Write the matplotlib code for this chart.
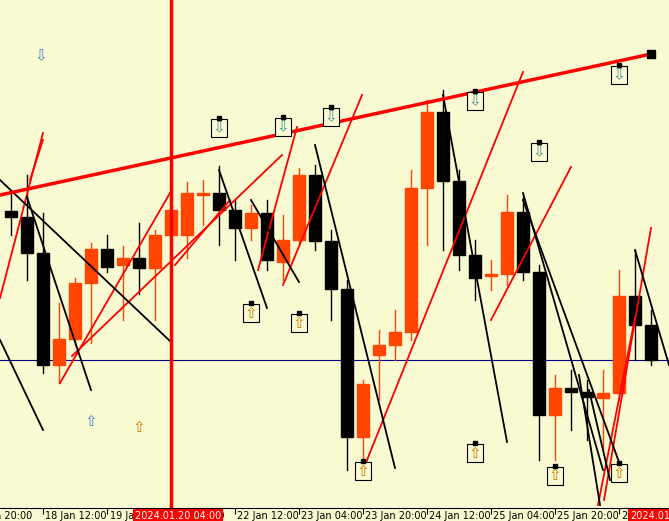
import matplotlib
matplotlib.use("Agg")
import matplotlib.pyplot as plt
from matplotlib.patches import Rectangle

# candle data in chart units (y grows downward like the screen)
opens  = [211,217,253,365,339,283,249,265,258,268,235,235,193,193,210,228,213,262,240,175,241,289,437,355,345,332,188,112,181,255,276,274,212,272,415,388,392,398,393,296,325]
closes = [217,253,365,339,283,249,267,258,268,235,210,193,193,210,228,213,260,240,175,241,289,437,384,345,332,188,112,181,255,278,274,212,272,415,388,392,397,393,296,325,360]
highs  = [190,175,213,303,278,243,235,246,223,230,195,182,180,166,200,205,200,215,168,165,230,280,380,330,310,170,100,90,170,240,260,195,195,265,375,370,380,370,270,250,310]
lows   = [235,280,373,383,345,343,272,320,294,320,260,258,225,245,260,240,270,280,245,250,320,470,470,400,360,340,245,250,270,300,290,285,280,460,460,430,440,450,400,360,365]
xtick_labels = ["18 Jan 12:00","19 Jan","2024.01.20 04:00",":00","22 Jan 12:00","23 Jan 04:00","23 Jan 20:00","24 Jan 12:00","25 Jan 04:00","25 Jan 20:00","26","2024.01.2"]
red_segs = [((0,298),(43,133)),((60,383),(170,193)),((72,356),(282,155)),((175,265),(230,200)),((258,270),(297,127)),((283,285),(362,95)),
            ((363,470),(523,72)),((491,320),(571,167)),((604,500),(651,228)),((598,505),(635,318)),((30,180),(43,140))]
black_segs = [((0,180),(171,342)),((27,197),(91,390)),((0,340),(43,430)),((219,170),(267,308)),((251,200),(299,282)),((315,145),(395,468)),
              ((443,95),(507,442)),((523,193),(603,470)),((523,200),(619,462)),((635,250),(669,365)),((579,375),(600,505)),((589,390),(610,480))]
down_boxed = [(219,128),(283,127),(331,117),(475,101),(539,152),(619,75)]
up_boxed = [(251,313),(299,323),(363,471),(475,453),(555,476),(619,473)]

BG = "#FAFAD2"; OR = "#FF4500"
fig = plt.figure(figsize=(6.69,5.21), dpi=100, facecolor=BG)
ax = fig.add_axes([0,13/521,1,1-13/521], facecolor=BG)
ax.set_xlim(0,669); ax.set_ylim(508,0)
for s in ax.spines.values(): s.set_visible(False)
ax.spines['bottom'].set_visible(True)

ax.axhline(360, color="#000080", lw=0.8)
for i,(o,c,h,l) in enumerate(zip(opens,closes,highs,lows)):
    x = 11+16*i
    col = "black" if c > o else OR
    ax.plot([x,x],[h,l], color=col, lw=1, zorder=3)
    ax.add_patch(Rectangle((x-6, min(o,c)), 12, max(abs(c-o),2), color=col, zorder=4))
for (a,b) in red_segs:
    ax.plot([a[0],b[0]],[a[1],b[1]], color="red", lw=1.3, zorder=5)
for (a,b) in black_segs:
    ax.plot([a[0],b[0]],[a[1],b[1]], color="black", lw=1.3, zorder=5)
ax.plot([0,651],[195,54], color="red", lw=2.5, zorder=6)
ax.plot([651],[54], marker="s", color="black", ms=6, zorder=7)
ax.axvline(171, color="red", lw=2.5, zorder=6)

bb = dict(boxstyle="square,pad=0.1", fc=BG, ec="black", lw=0.8)
for x,y in down_boxed:
    ax.text(x,y,"⇩", ha="center", va="center", fontsize=11, color="#4090A0", bbox=bb, zorder=8)
    ax.plot([x],[y-10], marker="s", color="black", ms=3, zorder=9)
for x,y in up_boxed:
    ax.text(x,y,"⇧", ha="center", va="center", fontsize=11, color="#C87800", bbox=bb, zorder=8)
    ax.plot([x],[y-10], marker="s", color="black", ms=3, zorder=9)
ax.text(41,56,"⇩", ha="center", va="center", fontsize=11, color="#4080C0")
ax.text(91,421,"⇧", ha="center", va="center", fontsize=11, color="#4080C0")
ax.text(139,428,"⇧", ha="center", va="center", fontsize=11, color="#C87800")

ticks = [43+64*k for k in range(10)]
ax.set_xticks(ticks); ax.set_xticklabels([])
ax.tick_params(axis='x', length=4, direction='out', pad=1)
ax.set_yticks([])
label_x = [45,110,133,210,237,301,365,429,493,557,621,628]
for lx,lab in zip(label_x,xtick_labels):
    if lab.startswith("2024"):
        ax.text(lx+2, 516, lab, fontsize=7, va="center", ha="left", color="white", clip_on=False,
                bbox=dict(boxstyle="square,pad=0.2", fc="red", ec="none"), zorder=10)
    else:
        ax.text(lx, 516, lab, fontsize=7, va="center", ha="left", clip_on=False)
ax.text(32, 516, "n 20:00", fontsize=7, va="center", ha="right", clip_on=False)
fig.savefig("out.png", dpi=100, facecolor=BG)
